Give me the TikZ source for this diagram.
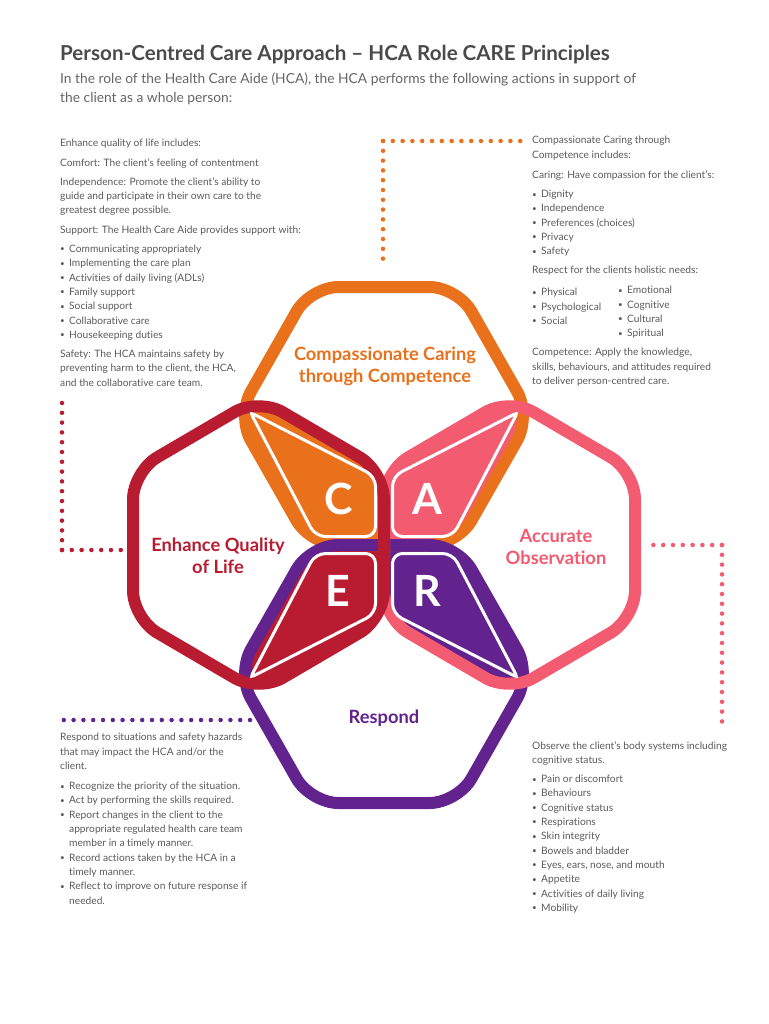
\documentclass[tikz,border=0pt]{standalone}
\usepackage{fontspec}
\setmainfont{Lato}[Ligatures={TeX,NoCommon}]
\usepackage{tikz}
\usetikzlibrary{positioning}
\definecolor{careorange}{HTML}{E9711C}
\definecolor{carecrimson}{HTML}{B91C30}
\definecolor{carepink}{HTML}{F25B70}
\definecolor{carepurple}{HTML}{62238F}
\definecolor{txtgray}{HTML}{5B5B5B}
\definecolor{titlegray}{HTML}{4A4A4A}
\definecolor{subgray}{HTML}{666666}

% hexagon outlines (centre lines)
\newcommand{\hexcomp}{(384,287) -- (457.5,287) -- (531,416) -- (457.5,545) -- (310.5,545) -- (237,416) -- (310.5,287) -- cycle}
\newcommand{\hexresp}{(384,803) -- (310.5,803) -- (237,674) -- (310.5,545) -- (457.5,545) -- (531,674) -- (457.5,803) -- cycle}
\newcommand{\hexenh}{(133,545) -- (133,471.5) -- (258.5,398) -- (384,471.5) -- (384,618.5) -- (258.5,692) -- (133,618.5) -- cycle}
\newcommand{\hexacc}{(635,545) -- (635,618.5) -- (509.5,692) -- (384,618.5) -- (384,471.5) -- (509.5,398) -- (635,471.5) -- cycle}
\newcommand{\bul}{\makebox[9pt][l]{\raisebox{0.6pt}{\fontsize{8}{8}\selectfont\textbullet}}}
\newcommand{\bulind}{\hspace*{9pt}}

\begin{document}
\begin{tikzpicture}[x=1pt,y=-1pt,
    hexline/.style={line width=12pt, rounded corners=28pt},
    petal/.style={line width=3pt, draw=white, rounded corners=10pt},
    letter/.style={text=white, font=\fontsize{43}{43}\selectfont\bfseries},
    hexlabel/.style={align=center, font=\fontsize{18.3}{22}\selectfont\bfseries},
    bodytext/.style={anchor=north west, align=left, inner sep=0pt, text=txtgray,
                     font=\fontsize{10.2}{14.3}\selectfont},
    dotline/.style={line width=4.5pt, line cap=round, dash pattern=on 0pt off 9.8pt}]
  \useasboundingbox[fill=white] (0,0) rectangle (768,1024);

  % heading
  \node[anchor=west, inner sep=0pt, text=titlegray,
        font=\fontsize{20.6}{24}\selectfont\bfseries] (title) at (60,55)
        {Person-Centred Care Approach -- HCA Role CARE Principles};
  \node[anchor=north west, inner sep=0pt, text=subgray, align=left,
        font=\fontsize{13.8}{19}\selectfont] (subtitle) at (60,73)
        {In the role of the Health Care Aide (HCA), the HCA performs the following actions in support of\\
         the client as a whole person:};

  % petal fills
  \begin{scope}
    \clip[rounded corners=28pt] \hexcomp;
    \fill[careorange, rounded corners=28pt] \hexenh;
    \fill[carepink, rounded corners=28pt] \hexacc;
  \end{scope}
  \begin{scope}
    \clip[rounded corners=28pt] \hexresp;
    \fill[carecrimson, rounded corners=28pt] \hexenh;
    \fill[carepurple, rounded corners=28pt] \hexacc;
  \end{scope}

  % hexagons
  \draw[hexline, careorange] \hexcomp;
  \draw[hexline, carepurple] \hexresp;
  \draw[hexline, carepink] \hexacc;
  \draw[hexline, carecrimson] \hexenh;

  % petals
  \draw[petal, fill=careorange] (375.5,506) -- (375.5,536.5) -- (315.4,536.5) -- (258.8,428.4)
       .. controls (250.5,412.5) .. (266.5,420.7) -- (375.5,476.4) -- cycle;
  \draw[petal, fill=carepink] (392.5,506) -- (392.5,536.5) -- (452.6,536.5) -- (509.2,428.4)
       .. controls (517.5,412.5) .. (501.5,420.7) -- (392.5,476.4) -- cycle;
  \draw[petal, fill=carecrimson] (375.5,584) -- (375.5,553.5) -- (315.4,553.5) -- (258.8,661.6)
       .. controls (250.5,677.5) .. (266.5,669.3) -- (375.5,613.6) -- cycle;
  \draw[petal, fill=carepurple] (392.5,584) -- (392.5,553.5) -- (452.6,553.5) -- (509.2,661.6)
       .. controls (517.5,677.5) .. (501.5,669.3) -- (392.5,613.6) -- cycle;

  \node[letter] (letC) at (339,499) {C};
  \node[letter] (letA) at (427,499) {A};
  \node[letter] (letE) at (338,591) {E};
  \node[letter] (letR) at (427,591) {R};

  \node[hexlabel, text=careorange] (lblcomp) at (385,366) {Compassionate Caring\\through Competence};
  \node[hexlabel, text=carecrimson] (lblenh) at (218,556) {Enhance Quality\\of Life};
  \node[hexlabel, text=carepink] (lblacc) at (556,547) {Accurate\\Observation};
  \node[hexlabel, text=carepurple] (lblresp) at (384,718) {Respond};

  % dotted leaders
  \coordinate (compcorner) at (383,141);
  \coordinate (compfoot) at (383,266);
  \coordinate (comptext) at (521,141);
  \draw[dotline, careorange] (compcorner) -- (compfoot);
  \draw[dotline, careorange] (compcorner) -- (comptext);
  \coordinate (enhcorner) at (62,550);
  \coordinate (enhtop) at (62,403);
  \coordinate (enhhex) at (121,550);
  \draw[dotline, carecrimson] (enhcorner) -- (enhtop);
  \draw[dotline, carecrimson] (enhcorner) -- (enhhex);
  \coordinate (acccorner) at (722,545);
  \coordinate (acchex) at (649,545);
  \coordinate (accfoot) at (722,728);
  \draw[dotline, carepink] (acccorner) -- (acchex);
  \draw[dotline, carepink] (acccorner) -- (accfoot);
  \coordinate (resphex) at (250,720);
  \coordinate (respend) at (62,720);
  \draw[dotline, carepurple] (resphex) -- (respend);

  % text blocks
  \node[bodytext] (enhtext) at (60,139) {%
    Enhance quality of life includes:\\[5pt]
    Comfort: The client's feeling of contentment\\[5pt]
    Independence: Promote the client's ability to\\
    guide and participate in their own care to the\\
    greatest degree possible.\\[5pt]
    Support: The Health Care Aide provides support with:\\[5pt]
    \bul Communicating appropriately\\
    \bul Implementing the care plan\\
    \bul Activities of daily living (ADLs)\\
    \bul Family support\\
    \bul Social support\\
    \bul Collaborative care\\
    \bul Housekeeping duties\\[5pt]
    Safety: The HCA maintains safety by\\
    preventing harm to the client, the HCA,\\
    and the collaborative care team.};

  \node[bodytext] (comptxt) at (532,136) {%
    Compassionate Caring through\\
    Competence includes:\\[6pt]
    Caring: Have compassion for the client's:\\[5pt]
    \bul Dignity\\
    \bul Independence\\
    \bul Preferences (choices)\\
    \bul Privacy\\
    \bul Safety\\[4pt]
    Respect for the clients holistic needs:};
  \node[bodytext] (compneeds) at (532,288) {%
    \bul Physical\\
    \bul Psychological\\
    \bul Social};
  \node[bodytext] (compneedsb) at (618,286) {%
    \bul Emotional\\
    \bul Cognitive\\
    \bul Cultural\\
    \bul Spiritual};
  \node[bodytext] (compskill) at (532,348) {%
    Competence: Apply the knowledge,\\
    skills, behaviours, and attitudes required\\
    to deliver person-centred care.};

  \node[bodytext] (resptxt) at (60,733) {%
    Respond to situations and safety hazards\\
    that may impact the HCA and/or the\\
    client.\\[6pt]
    \bul Recognize the priority of the situation.\\
    \bul Act by performing the skills required.\\
    \bul Report changes in the client to the\\
    \bulind appropriate regulated health care team\\
    \bulind member in a timely manner.\\
    \bul Record actions taken by the HCA in a\\
    \bulind timely manner.\\
    \bul Reflect to improve on future response if\\
    \bulind needed.};

  \node[bodytext] (acctxt) at (532,741) {%
    Observe the client's body systems including\\
    cognitive status.\\[5pt]
    \bul Pain or discomfort\\
    \bul Behaviours\\
    \bul Cognitive status\\
    \bul Respirations\\
    \bul Skin integrity\\
    \bul Bowels and bladder\\
    \bul Eyes, ears, nose, and mouth\\
    \bul Appetite\\
    \bul Activities of daily living\\
    \bul Mobility};
\end{tikzpicture}
\end{document}
